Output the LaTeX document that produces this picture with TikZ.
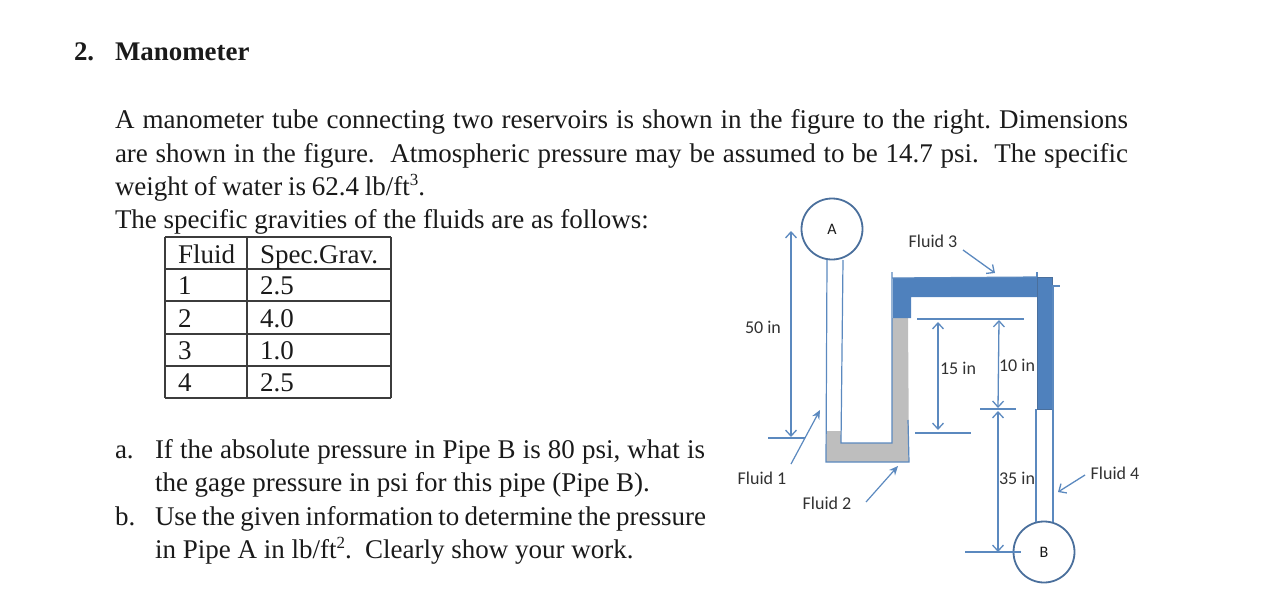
\documentclass[tikz,border=0pt]{standalone}
\usepackage{fontspec}
\setmainfont{Liberation Serif}
\newfontfamily\labelfont{Carlito}
\usetikzlibrary{arrows.meta}
\definecolor{tube}{HTML}{5B89BF}
\definecolor{edge}{HTML}{4A6F9C}
\definecolor{fluidblue}{HTML}{4F81BD}
\definecolor{fluidgray}{HTML}{BEBEBE}
\definecolor{ink}{HTML}{1A1A1A}
\newcommand{\jline}[2]{\makebox[#1pt][s]{\spaceskip=5pt plus 6pt\relax #2}}
\newcommand{\sups}[1]{\raisebox{10pt}{\fontsize{17}{17}\selectfont #1}}
\tikzset{
  txt/.style={anchor=base west,inner sep=0pt,outer sep=0pt,text=ink,font=\fontsize{27}{30}\selectfont\frenchspacing},
  hd/.style={txt,font=\fontsize{26.9}{30}\selectfont\bfseries},
  lab/.style={inner sep=0pt,text=ink!90,font=\labelfont\fontsize{18}{20}\selectfont},
  pipe/.style={circle,draw=edge,line width=1.8pt,minimum size=61pt,inner sep=0pt,text=ink,font=\labelfont\fontsize{16}{18}\selectfont},
  wall/.style={draw=tube,line width=1.2pt},
  dim/.style={draw=tube,line width=1.2pt},
  darrow/.style={draw=tube,line width=1.3pt,{Straight Barb[length=6pt,width=11pt]}-{Straight Barb[length=6pt,width=11pt]}},
  uarrow/.style={draw=tube,line width=1.3pt,-{Straight Barb[length=6pt,width=11pt]}},
  farrow/.style={draw=tube,line width=1.2pt,-{Stealth[length=9pt,width=8pt]}},
  grid/.style={draw=ink!85,line width=1.3pt},
  cell/.style={txt,font=\fontsize{27}{30}\selectfont},
}
\begin{document}
\begin{tikzpicture}[x=1pt,y=-1pt]
\useasboundingbox (0,0) rectangle (1282,589);
% text
\node[hd] (num) at (74,60) {2.};
\node[hd] (title) at (115,60) {Manometer};
\node[txt] (p1) at (115,128) {\jline{1013}{A manometer tube connecting two reservoirs is shown in the figure to the right. Dimensions}};
\node[txt] (p2) at (115,162) {\jline{1013}{are shown in the figure.\ \ Atmospheric pressure may be assumed to be 14.7 psi.\ \ The specific}};
\node[txt] (p3) at (115,195) {\jline{310}{weight of water is 62.4 lb/ft\sups{3}.}};
\node[txt] (p4) at (115,228) {The specific gravities of the fluids are as follows:};
% table
\foreach \yy in {237,269,301,334,366,398} \draw[grid] (165,\yy) -- (391,\yy);
\foreach \xx in {165,247,391} \draw[grid] (\xx,237) -- (\xx,398);
\node[cell] (t11) at (178,263) {Fluid};
\node[cell] (t12) at (260,263) {Spec.Grav.};
\node[cell] (t21) at (178,294) {1};
\node[cell] (t22) at (260,294) {2.5};
\node[cell] (t31) at (178,327) {2};
\node[cell] (t32) at (260,327) {4.0};
\node[cell] (t41) at (178,359) {3};
\node[cell] (t42) at (260,359) {1.0};
\node[cell] (t51) at (178,391) {4};
\node[cell] (t52) at (260,391) {2.5};
% questions
\node[txt] (qa) at (115,458) {a.};
\node[txt] (qa1) at (155,458) {\jline{550}{If the absolute pressure in Pipe B is 80 psi, what is}};
\node[txt] (qa2) at (155,491) {the gage pressure in psi for this pipe (Pipe B).};
\node[txt] (qb) at (115,525) {b.};
\node[txt] (qb1) at (155,525) {\jline{551}{Use the given information to determine the pressure}};
\node[txt] (qb2) at (155,558) {in Pipe A in lb/ft\sups{2}.\ \ Clearly show your work.};
% fluids
\fill[fluidgray] (826,431) -- (841,431) -- (841,443) -- (892,443) -- (892,318) -- (908,318) -- (909,462) -- (826,462) -- cycle;
\fill[fluidblue] (893,278) -- (1037,277) -- (1052,277) -- (1052,409) -- (1037,409) -- (1037,297) -- (911,297) -- (911,318) -- (893,318) -- cycle;
\draw[edge,line width=1pt] (1037,277) rectangle (1052,409);
% pipes
\node[pipe] (A) at (832,229) {A};
\node[pipe] (B) at (1044,552) {B};
% tube walls
\draw[wall] (827,260) -- (826,462) -- (909,462) -- (908,420);
\draw[wall] (843,260) -- (841,443) -- (892,443) -- (892,272);
\draw[wall] (892,278) -- (1037,277);
\draw[wall] (1037,272) -- (1037,277);
\draw[wall] (1052,286) -- (1060,286);
\draw[wall] (1053,286) -- (1053,522);
\draw[wall] (1036,409) -- (1036,522);
% dimensions
\draw[dim] (768,438) -- (805,438);
\draw[dim] (917,319) -- (1024,319);
\draw[dim] (915,433) -- (971,433);
\draw[dim] (980,409) -- (1016,409);
\draw[dim] (965,552) -- (1021,552);
\draw[darrow] (791,231) -- (791,437);
\draw[darrow] (938,322) -- (938,430);
\draw[darrow] (999,320) -- (998,408);
\draw[darrow] (998,411) -- (998,552);
\node[lab] (l50) at (763,327) {50 in};
\node[lab] (l15) at (958,368) {15 in};
\node[lab] (l10) at (1017,365) {10 in};
\node[lab] (l35) at (1017,478) {35 in};
\node[lab] (f1) at (762,478) {Fluid 1};
\node[lab] (f2) at (827,503) {Fluid 2};
\node[lab] (f3) at (933,241) {Fluid 3};
\node[lab] (f4) at (1115,473) {Fluid 4};
\coordinate (f1a) at (791,464);
\coordinate (f1b) at (820,410);
\coordinate (f2a) at (866,502);
\coordinate (f2b) at (898,466);
\coordinate (f3a) at (963,250);
\coordinate (f3b) at (995,273);
\coordinate (f4a) at (1085,475);
\coordinate (f4b) at (1058,492);
\draw[farrow] (f1a) -- (f1b);
\draw[farrow] (f2a) -- (f2b);
\draw[uarrow] (f3a) -- (f3b);
\draw[uarrow] (f4a) -- (f4b);
\end{tikzpicture}
\end{document}
